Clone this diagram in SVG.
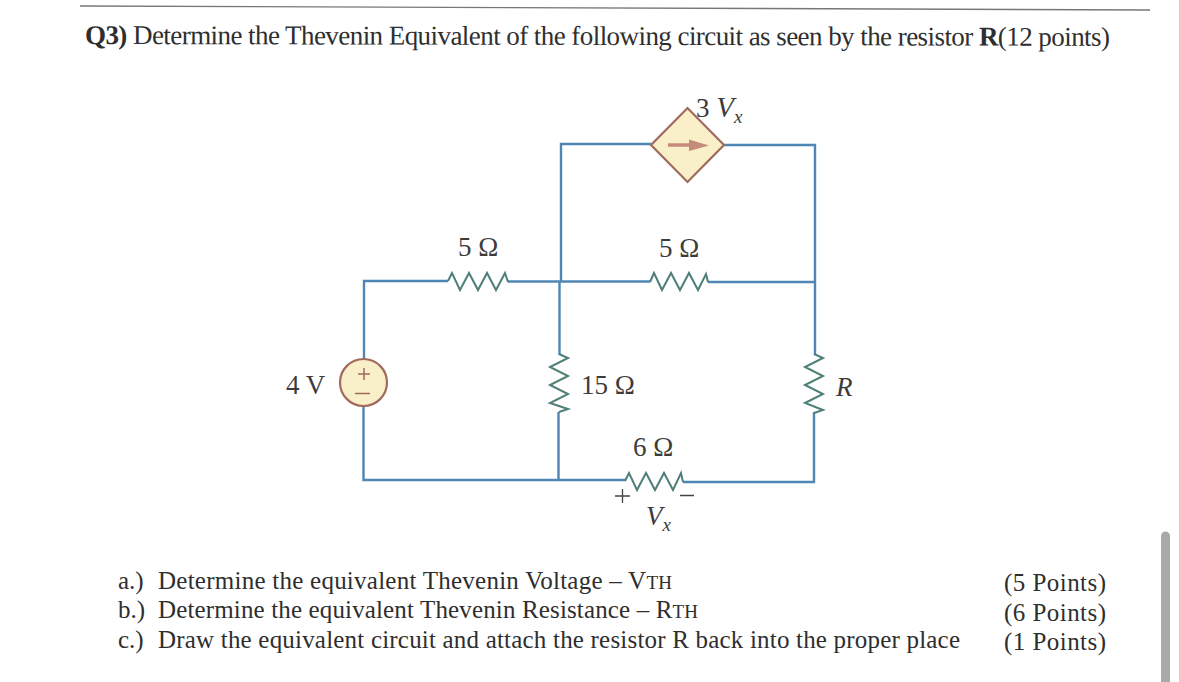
<svg xmlns="http://www.w3.org/2000/svg" width="1179" height="682" viewBox="0 0 1179 682">
<style>
.wire{fill:none;stroke:#4f86b5;stroke-width:2.4;stroke-linejoin:miter}
.res{fill:none;stroke:#4e7f78;stroke-width:2;stroke-linejoin:miter}
.t{font-family:"Liberation Serif",serif;fill:#2e2e2e;font-size:25px}
.c{font-family:"Liberation Serif",serif;fill:#3c3c3c;font-size:27px}
.i{font-style:italic}
.sym{fill:#f9efc8;stroke:#a06a5c;stroke-width:2.2}
</style>
<rect width="1179" height="682" fill="#fff"/>
<line x1="80" y1="6" x2="1150" y2="10" stroke="#777" stroke-width="1.4"/>
<text class="t" x="85" y="44" style="font-size:27px" textLength="1025" lengthAdjust="spacing" transform="rotate(0.1 85 44)"><tspan font-weight="bold">Q3)</tspan> Determine the Thevenin Equivalent of the following circuit as seen by the resistor <tspan font-weight="bold">R</tspan>(12 points)</text>
<g id="connectors">
<path class="wire" d="M651 144H561V281"/>
<path class="wire" d="M724 145H815V355"/>
<path class="wire" d="M448 281H364V359"/>
<path class="wire" d="M508 281.500H650"/>
<path class="wire" d="M708 282H815"/>
<path class="wire" d="M559.500 281V355"/>
<path class="wire" d="M558.500 412V480"/>
<path class="wire" d="M363.500 406V480H625"/>
<path class="wire" d="M683 482H814V412"/>
</g>
<g id="source-3vx">
<polygon class="sym" points="651,145 687.500,108 724,145 687.500,182"/>
<path d="M668 145H697" stroke="#c58a7a" stroke-width="3.500" fill="none"/>
<polygon points="689,139.500 709,145.500 689,151" fill="#c58a7a"/>
<text class="c" x="696" y="117">3 <tspan class="i" font-size="29">V</tspan><tspan class="i" font-size="19" dy="6">x</tspan></text>
</g>
<g id="source-4v">
<circle class="sym" cx="363.500" cy="382.500" r="23.500"/>
<path d="M364 368V380M358 374H370M355 393.500H370" stroke="#a06a5c" stroke-width="1.500" fill="none"/>
<text class="c" x="286" y="394">4 V</text>
</g>
<g id="r-5-left">
<path class="res" d="M448 281L452 273L460 290L469 273L478 290L487 273L496 290L505 273L508 282"/>
<text class="c" x="458" y="256">5 Ω</text>
</g>
<g id="r-5-right">
<path class="res" d="M650 282L654 273L662 290L671 273L680 290L689 273L698 290L706 274L708 282"/>
<text class="c" x="659" y="257">5 Ω</text>
</g>
<g id="r-15">
<path class="res" d="M559 354L568 358L550 367L568 376L550 385L568 394L550 403L568 409L559 412"/>
<text class="c" x="581" y="394">15 Ω</text>
</g>
<g id="r-load">
<path class="res" d="M814 354L823 358L805 367L823 376L805 385L823 394L805 403L823 410L814 413"/>
<text class="c i" x="836" y="396">R</text>
</g>
<g id="r-6">
<path class="res" d="M625 481L629 473L637 490L646 473L655 490L664 473L673 490L681 473L683 482"/>
<text class="c" x="633" y="456">6 Ω</text>
<path d="M615 496H630M622.500 489V503M680 495.500H694" stroke="#444" stroke-width="1.300" fill="none"/>
<text class="c i" x="646" y="525" font-size="29">V<tspan font-size="19" dy="6">x</tspan></text>
</g>
<text class="t" x="118" y="589">a.)</text>
<text class="t" x="158" y="589" textLength="514">Determine the equivalent Thevenin Voltage – V<tspan font-size="19">TH</tspan></text>
<text class="t" x="118" y="618">b.)</text>
<text class="t" x="158" y="618" textLength="540">Determine the equivalent Thevenin Resistance – R<tspan font-size="19">TH</tspan></text>
<text class="t" x="118" y="648">c.)</text>
<text class="t" x="158" y="648" textLength="802">Draw the equivalent circuit and attach the resistor R back into the proper place</text>
<text class="t" x="1004" y="591" textLength="102">(5 Points)</text>
<text class="t" x="1004" y="621" textLength="102">(6 Points)</text>
<text class="t" x="1004" y="650" textLength="102">(1 Points)</text>
<path d="M1161 682V536a4.500 4.500 0 0 1 9 0V682Z" fill="#a9a9a9"/>
</svg>
